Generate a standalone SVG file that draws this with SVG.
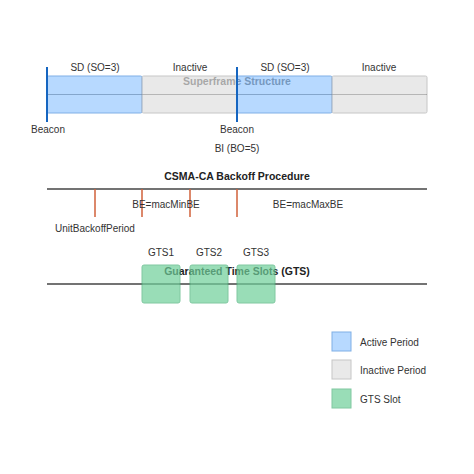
<svg xmlns="http://www.w3.org/2000/svg" width="474" height="474" viewBox="0 0 474 474">
<style>
text{font-family:"Liberation Sans",Arial,sans-serif;font-size:10px;fill:#333;text-anchor:middle}
.title{font-weight:bold;fill:#222;font-size:10.5px}
.active{fill:#99c9ff;stroke:#4a8fdc;stroke-width:1;opacity:0.7}
.inactive{fill:#e0e0e0;stroke:#b0b0b0;stroke-width:1;opacity:0.7}
.gts{fill:#6fcf9a;stroke:#4cb27a;stroke-width:1;opacity:0.7}
.axis{stroke:#444;stroke-width:1.5}
.beacon{stroke:#1565c0;stroke-width:2}
.tick{stroke:#d0603a;stroke-width:1.5}
.lg{text-anchor:start}
</style>
<rect width="474" height="474" fill="#fff"/>
<g id="superframe">
<text x="237" y="85" class="title">Superframe Structure</text>
<line x1="47" y1="94.5" x2="427" y2="94.5" stroke="#555" stroke-width="1"/>
<rect class="active" x="47" y="76" width="95" height="37" rx="1.5"/>
<rect class="inactive" x="142" y="76" width="95" height="37" rx="1.5"/>
<rect class="active" x="237" y="76" width="95" height="37" rx="1.5"/>
<rect class="inactive" x="332" y="76" width="95" height="37" rx="1.5"/>
<text x="95" y="71">SD (SO=3)</text>
<text x="190" y="71">Inactive</text>
<text x="285" y="71">SD (SO=3)</text>
<text x="379" y="71">Inactive</text>
</g>
<g id="beacons">
<line class="beacon" x1="47" y1="67" x2="47" y2="122"/>
<line class="beacon" x1="237" y1="67" x2="237" y2="122"/>
<text x="48" y="133">Beacon</text>
<text x="237" y="133">Beacon</text>
<text x="237" y="152">BI (BO=5)</text>
</g>
<g id="csma">
<text x="237" y="180" class="title">CSMA-CA Backoff Procedure</text>
<line class="axis" x1="47" y1="189" x2="427" y2="189"/>
<line class="tick" x1="95" y1="189" x2="95" y2="217"/>
<line class="tick" x1="142" y1="189" x2="142" y2="217"/>
<line class="tick" x1="190" y1="189" x2="190" y2="217"/>
<line class="tick" x1="237" y1="189" x2="237" y2="217"/>
<text x="166" y="208">BE=macMinBE</text>
<text x="308" y="208">BE=macMaxBE</text>
<text x="95" y="232">UnitBackoffPeriod</text>
</g>
<g id="gts">
<text x="237" y="275" class="title">Guaranteed Time Slots (GTS)</text>
<line class="axis" x1="47" y1="284" x2="427" y2="284"/>
<rect class="gts" x="142" y="265" width="38" height="38" rx="2"/>
<rect class="gts" x="190" y="265" width="38" height="38" rx="2"/>
<rect class="gts" x="237" y="265" width="38" height="38" rx="2"/>
<text x="161" y="256">GTS1</text>
<text x="209" y="256">GTS2</text>
<text x="256" y="256">GTS3</text>
</g>
<g id="legend">
<rect class="active" x="332" y="332" width="19" height="19"/>
<rect class="inactive" x="332" y="360" width="19" height="19"/>
<rect class="gts" x="332" y="389" width="19" height="19"/>
<text class="lg" x="360" y="346">Active Period</text>
<text class="lg" x="360" y="374">Inactive Period</text>
<text class="lg" x="360" y="403">GTS Slot</text>
</g>
</svg>
